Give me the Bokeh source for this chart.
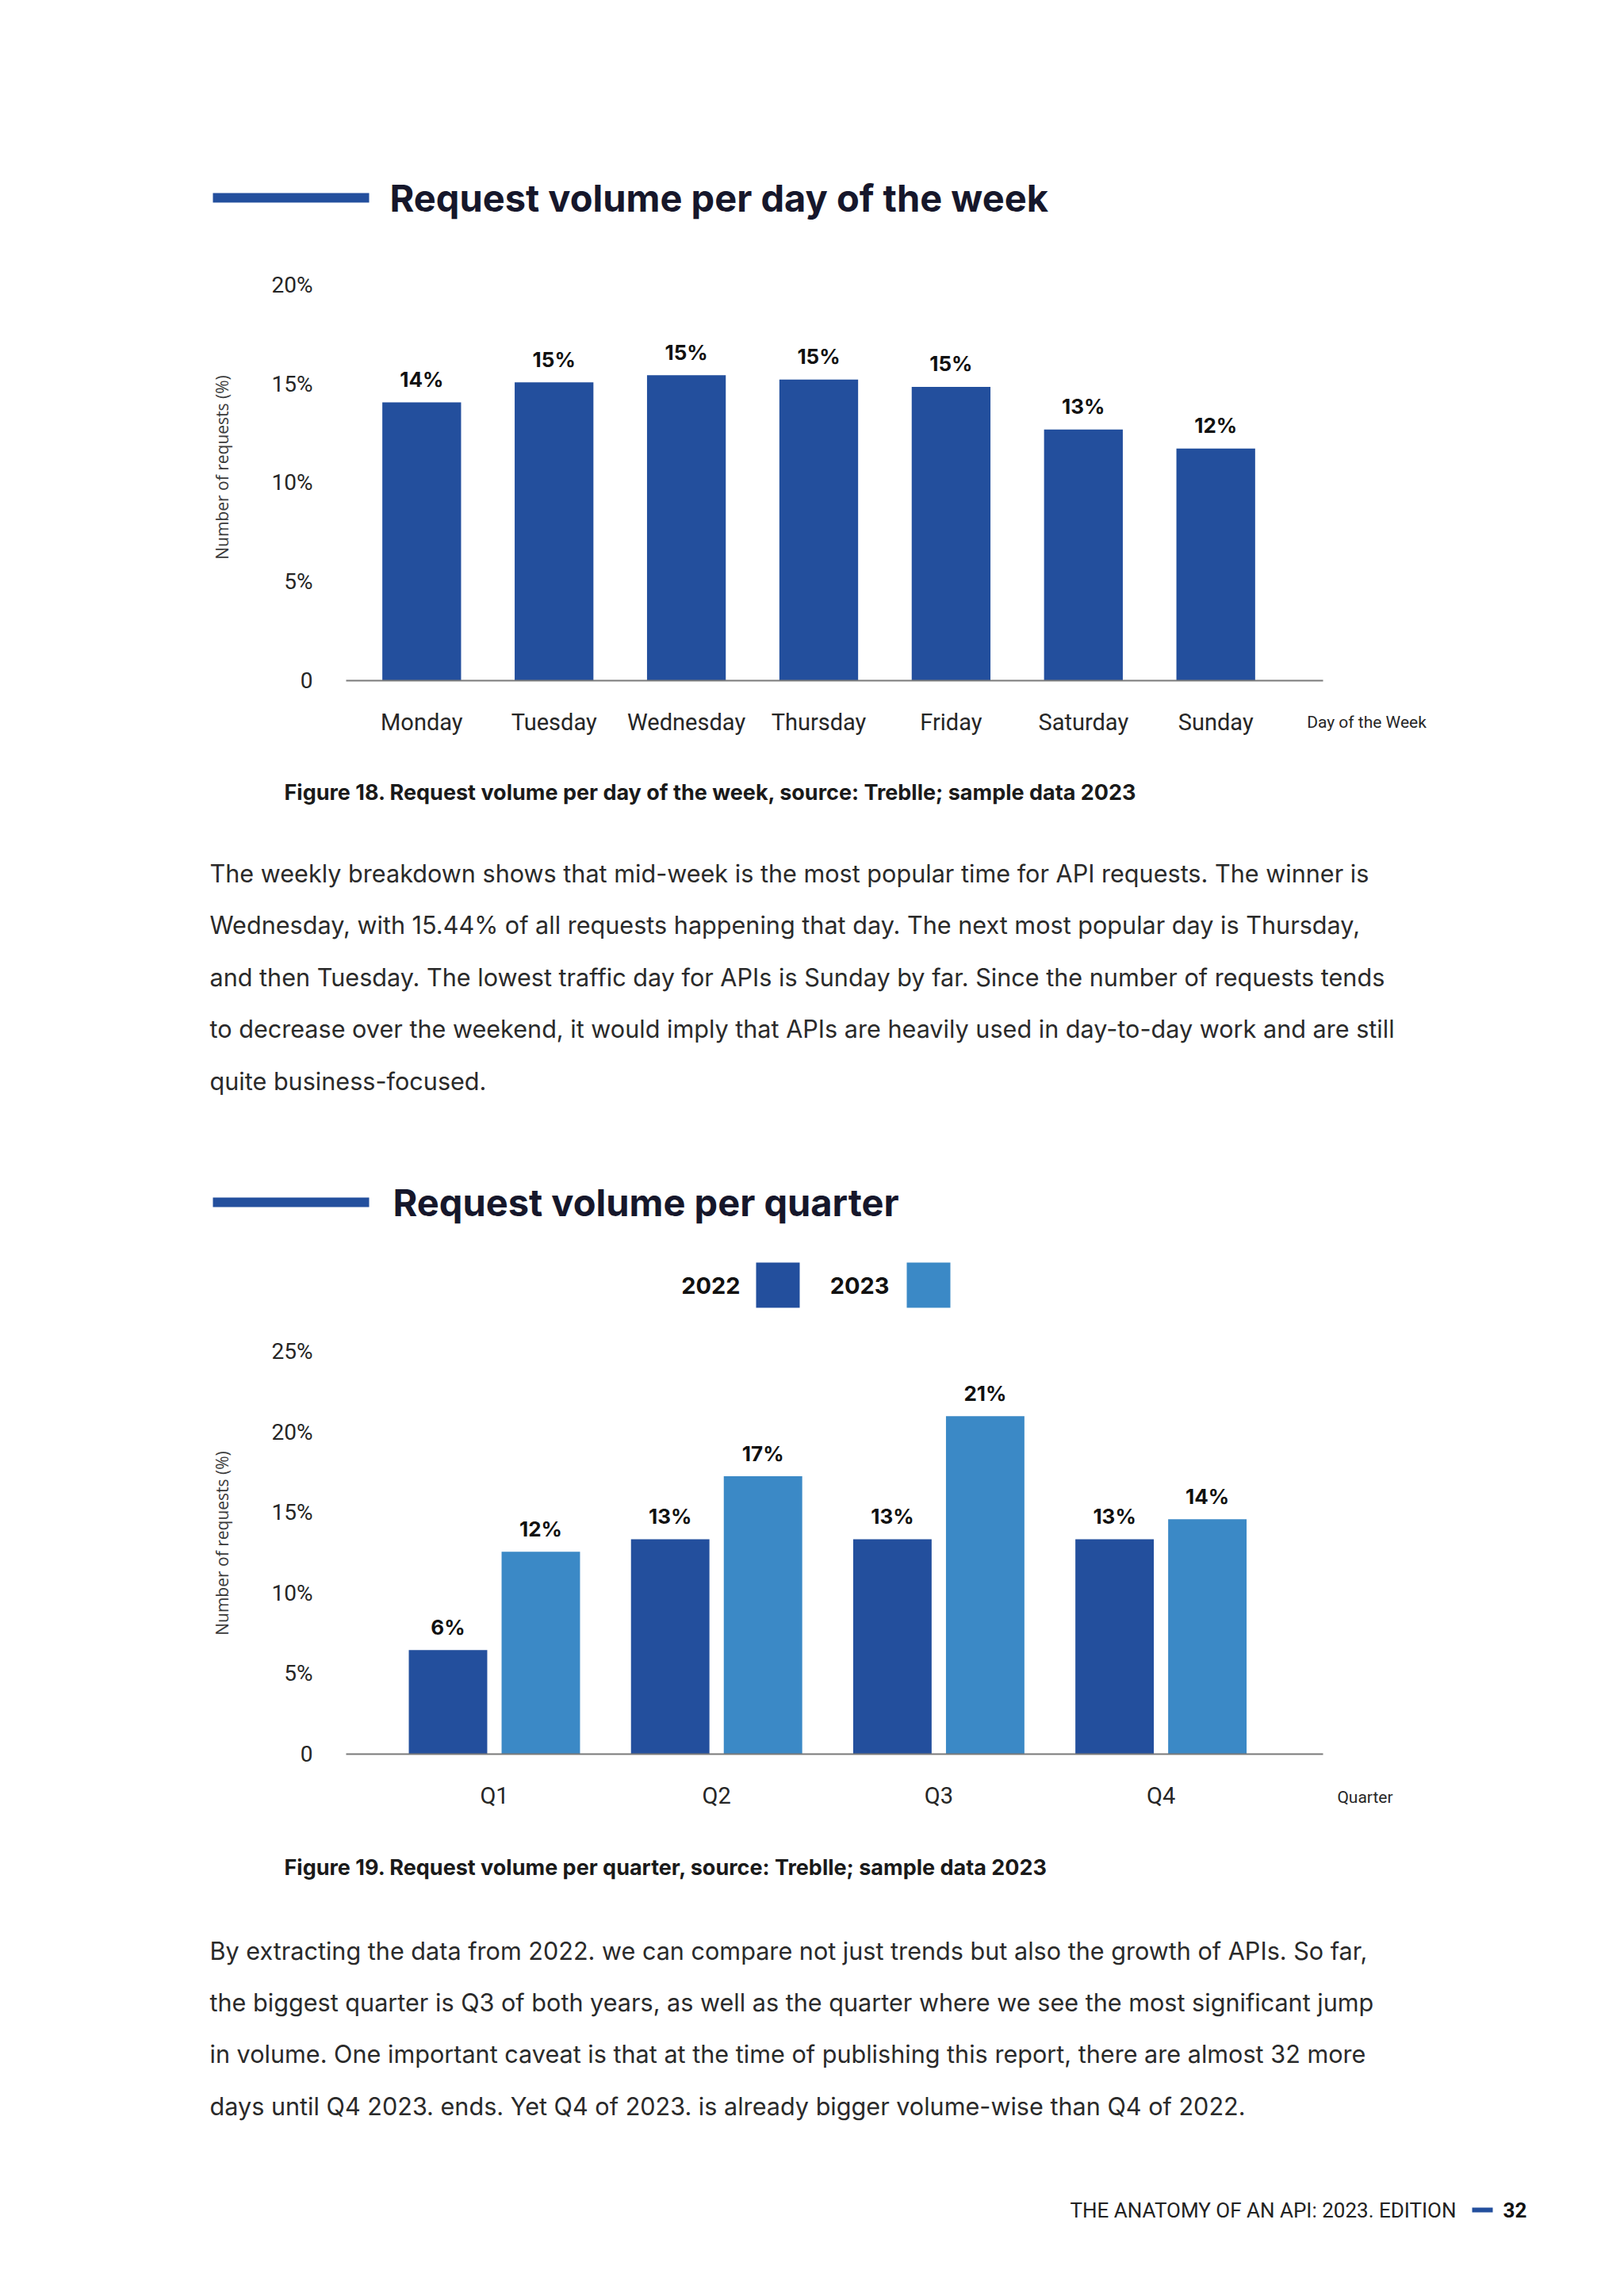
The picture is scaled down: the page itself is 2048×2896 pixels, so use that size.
from bokeh.plotting import figure
from bokeh.layouts import column
from bokeh.models import Range1d, FixedTicker, ColumnDataSource
from bokeh.core.properties import value
from bokeh.embed import file_html
from bokeh.resources import INLINE
import numpy as np

# ---------------- data ----------------
days = ["Monday", "Tuesday", "Wednesday", "Thursday", "Friday", "Saturday", "Sunday"]
day_share = [14.06, 15.08, 15.44, 15.22, 14.85, 12.69, 11.73]
day_labels = ["14%", "15%", "15%", "15%", "15%", "13%", "12%"]
day_yticks = [0, 5, 10, 15, 20]
day_ytick_labels = ["0", "5%", "10%", "15%", "20%"]

quarters = ["Q1", "Q2", "Q3", "Q4"]
years = ["2022", "2023"]
q_2022 = [6.44, 13.33, 13.33, 13.33]
q_2023 = [12.55, 17.24, 20.97, 14.57]
q_2022_labels = ["6%", "13%", "13%", "13%"]
q_2023_labels = ["12%", "17%", "21%", "14%"]
q_yticks = [0, 5, 10, 15, 20, 25]
q_ytick_labels = ["0", "5%", "10%", "15%", "20%", "25%"]

y_title = "Number of requests (%)"
x_title1 = "Day of the Week"
x_title2 = "Quarter"
title1 = "Request volume per day of the week"
title2 = "Request volume per quarter"
caption1 = "Figure 18. Request volume per day of the week, source: Treblle; sample data 2023"
caption2 = "Figure 19. Request volume per quarter, source: Treblle; sample data 2023"
para1 = [
    "The weekly breakdown shows that mid-week is the most popular time for API requests. The winner is",
    "Wednesday, with 15.44% of all requests happening that day. The next most popular day is Thursday,",
    "and then Tuesday. The lowest traffic day for APIs is Sunday by far. Since the number of requests tends",
    "to decrease over the weekend, it would imply that APIs are heavily used in day-to-day work and are still",
    "quite business-focused.",
]
para2 = [
    "By extracting the data from 2022. we can compare not just trends but also the growth of APIs. So far,",
    "the biggest quarter is Q3 of both years, as well as the quarter where we see the most significant jump",
    "in volume. One important caveat is that at the time of publishing this report, there are almost 32 more",
    "days until Q4 2023. ends. Yet Q4 of 2023. is already bigger volume-wise than Q4 of 2022.",
]
footer_text = "THE ANATOMY OF AN API: 2023. EDITION"
page_no = "32"

# ---------------- style ----------------
W = 2032
DARK = "#234f9d"
LIGHT = "#3b89c6"
TITLE_C = "#16172b"
TEXT_C = "#2a2a2a"
AXIS_C = "#7a7a7a"
BODY_FONT = "Inter"
TICK_FONT = "Roboto"


def no_align(p):
    if "frame_align" in p.properties():
        p.frame_align = False


def page_fig(y0, y1):
    p = figure(width=W, height=y1 - y0, x_range=Range1d(0, W), y_range=Range1d(y1, y0),
               output_backend="svg", toolbar_location=None, x_axis_type=None, y_axis_type=None,
               min_border=0, outline_line_color=None, background_fill_color="white",
               border_fill_color="white")
    p.grid.visible = False
    no_align(p)
    return p


def add_text(p, xs, ys, texts, size, color=TEXT_C, style="normal", align="left", font=BODY_FONT):
    p.text(x=xs, y=ys, text=texts, text_font=value(font), text_font_size=size,
           text_font_style=style, text_color=color, text_align=align, text_baseline="middle")


def add_heading(p, y, x_text, text):
    p.quad(left=[268], right=[465], top=[y - 6], bottom=[y + 6], fill_color=DARK, line_color=None)
    add_text(p, [x_text], [y], [text], "47px", color=TITLE_C, style="bold")


def chart_fig(top_px, bottom_px, x_at, y_at):
    p = figure(width=W, height=bottom_px - top_px,
               x_range=Range1d(x_at(0), x_at(W)), y_range=Range1d(y_at(bottom_px), y_at(top_px)),
               output_backend="svg", toolbar_location=None, min_border=0,
               background_fill_color="white", border_fill_color="white")
    no_align(p)
    return p


def style_chart(p, xticks, xlabels, yticks, ylabels, x_lo, x_hi, y_label_center):
    p.xgrid.grid_line_color = None
    p.ygrid.grid_line_color = None
    p.outline_line_color = None
    xa = p.xaxis[0]
    xa.fixed_location = 0
    xa.bounds = (x_lo, x_hi)
    xa.ticker = FixedTicker(ticks=xticks)
    xa.major_label_overrides = {t: l for t, l in zip(xticks, xlabels)}
    xa.axis_line_color = AXIS_C
    xa.axis_line_width = 2
    xa.major_tick_line_color = None
    xa.minor_tick_line_color = None
    xa.major_label_standoff = 30
    xa.major_label_text_font = TICK_FONT
    xa.major_label_text_font_size = "29px"
    xa.major_label_text_color = "#262626"
    ya = p.yaxis[0]
    ya.fixed_location = x_lo
    ya.bounds = (0, 2 * y_label_center)
    ya.ticker = FixedTicker(ticks=yticks)
    ya.major_label_overrides = {t: l for t, l in zip(yticks, ylabels)}
    ya.axis_line_color = None
    ya.major_tick_line_color = None
    ya.minor_tick_line_color = None
    ya.major_label_standoff = 36
    ya.major_label_text_font = TICK_FONT
    ya.major_label_text_font_size = "28px"
    ya.major_label_text_color = "#262626"
    ya.axis_label = y_title
    ya.axis_label_text_font = "Open Sans"
    ya.axis_label_text_font_size = "21px"
    ya.axis_label_text_font_style = "normal"
    ya.axis_label_text_color = "#3a3a3a"
    ya.axis_label_standoff = 46


def bar_labels(p, src):
    p.text(x="x", y="top", text="lab", source=src, y_offset=-29, text_align="center",
           text_baseline="middle", text_font=value(BODY_FONT), text_font_size="26px",
           text_font_style="bold", text_color="#111111")


# ---------------- top heading ----------------
t1 = page_fig(0, 320)
add_heading(t1, 249, 491, title1)

# ---------------- chart 1 (page px -> data via its own linear scale) ----------------
def x1(px):
    return (px - 531.3) / 166.9


def y1(py):
    return (857.5 - py) / 24.92


day_idx = list(range(len(days)))
src1 = ColumnDataSource(dict(x=day_idx, top=day_share, lab=day_labels))
c1 = chart_fig(320, 950, x1, y1)
c1.vbar(x="x", top="top", bottom=0, width=0.595, source=src1, fill_color=DARK, line_color=None)
bar_labels(c1, src1)
style_chart(c1, day_idx, days, day_yticks, day_ytick_labels, x1(436), x1(1668), y1(584))
c1.text(x=[x1(1723)], y=[y1(910)], text=[x_title1], text_align="center", text_baseline="middle",
        text_font=value(TICK_FONT), text_font_size="21px", text_color="#262626")

# ---------------- middle text + heading 2 + legend ----------------
t2 = page_fig(950, 1680)
add_text(t2, [358], [999], [caption1], "27px", color="#1a1a1a", style="bold")
add_text(t2, [264] * len(para1), [1100.6 + 65.6 * i for i in range(len(para1))], para1, "30.6px")
add_heading(t2, 1516, 495, title2)
add_text(t2, [933, 1121], [1621, 1621], years, "29px", color="#111111", style="bold", align="right")
t2.quad(left=[953, 1143], right=[1008, 1198], top=[1592, 1592], bottom=[1649, 1649],
        fill_color=[DARK, LIGHT], line_color=None)

# ---------------- chart 2 ----------------
def x2(px):
    return (px - 623.0) / 280.2


def y2(py):
    return (2211.5 - py) / 20.3


q_idx = np.arange(len(quarters))
off = 0.2088
src2a = ColumnDataSource(dict(x=q_idx - off, top=q_2022, lab=q_2022_labels))
src2b = ColumnDataSource(dict(x=q_idx + off, top=q_2023, lab=q_2023_labels))
c2 = chart_fig(1680, 2300, x2, y2)
for src, col in ((src2a, DARK), (src2b, LIGHT)):
    c2.vbar(x="x", top="top", bottom=0, width=0.353, source=src, fill_color=col, line_color=None)
    bar_labels(c2, src)
style_chart(c2, list(range(len(quarters))), quarters, q_yticks, q_ytick_labels,
            x2(436), x2(1668), y2(1939))
c2.text(x=[x2(1721)], y=[y2(2266)], text=[x_title2], text_align="center", text_baseline="middle",
        text_font=value(TICK_FONT), text_font_size="21px", text_color="#262626")

# ---------------- bottom text + footer ----------------
t3 = page_fig(2300, 2880)
add_text(t3, [358], [2354.5], [caption2], "27px", color="#1a1a1a", style="bold")
add_text(t3, [264] * len(para2), [2459.8 + 65.3 * i for i in range(len(para2))], para2, "30.6px")
add_text(t3, [1836], [2787], [footer_text], "26px", color="#222222", align="right", font=TICK_FONT)
t3.quad(left=[1856], right=[1882], top=[2784], bottom=[2790], fill_color=DARK, line_color=None)
add_text(t3, [1895], [2787], [page_no], "26px", color="#111111", style="bold", font=TICK_FONT)

page = column(t1, c1, t2, c2, t3, spacing=0)
open("out.html", "w").write(file_html(page, INLINE))
